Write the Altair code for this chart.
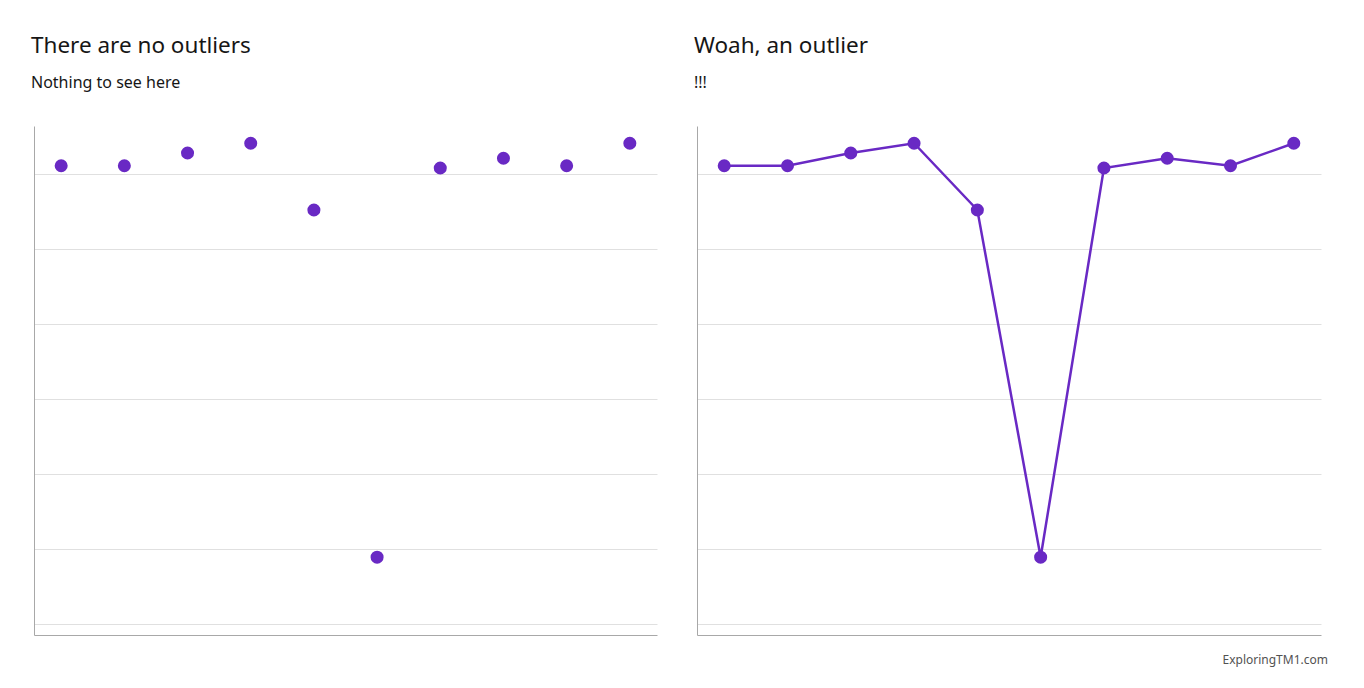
import altair as alt
import pandas as pd

categories = ["1", "2", "3", "4", "5", "6", "7", "8", "9", "10"]
values = [61.1, 61.1, 62.8, 64.1, 55.2, 8.9, 60.8, 62.1, 61.1, 64.1]

df = pd.DataFrame({"cat": categories, "value": values})

PURPLE = "#6929c4"
FONT = "Noto Sans"

x_enc = alt.X("cat:N", sort=categories, title=None,
              scale=alt.Scale(type="point", padding=0.43),
              axis=alt.Axis(labels=False, ticks=False, grid=False, domain=True,
                            domainColor="#a8a8a8", domainWidth=1))
y_enc = alt.Y("value:Q", title=None,
              scale=alt.Scale(domain=[-1.47, 66.4], nice=False, zero=False),
              axis=alt.Axis(labels=False, ticks=False, grid=True, domain=True,
                            values=[0, 10, 20, 30, 40, 50, 60],
                            gridColor="#e0e0e0", gridWidth=1,
                            domainColor="#a8a8a8", domainWidth=1))

W, H = 623, 509

def title(t, s):
    return alt.TitleParams(t, subtitle=s, anchor="start", fontSize=22.5,
                           fontWeight="normal", font=FONT, color="#161616",
                           subtitleFont=FONT, subtitleFontSize=16,
                           subtitleColor="#161616", subtitlePadding=18,
                           offset=35, dx=-3)

left = alt.Chart(df).mark_circle(size=170, color=PURPLE, opacity=1).encode(
    x=x_enc, y=y_enc
).properties(width=W, height=H, title=title("There are no outliers", "Nothing to see here"))

base = alt.Chart(df).encode(x=x_enc, y=y_enc)
right = alt.layer(
    base.mark_line(color=PURPLE, strokeWidth=2.5),
    base.mark_circle(size=170, color=PURPLE, opacity=1),
).properties(width=W + 1, height=H, title=title("Woah, an outlier", "!!!"))

chart = alt.hconcat(left, right, spacing=37).properties(
    title=alt.TitleParams("ExploringTM1.com", orient="bottom", anchor="end",
                          fontSize=12, fontWeight="normal", font=FONT,
                          color="#525252", offset=20, dx=7),
    padding={"left": 31, "top": 34, "right": 5, "bottom": 5},
    background="white",
).configure_view(strokeWidth=0, stroke="transparent")

chart.save("out.html", embed_options={"renderer": "svg", "actions": False})
